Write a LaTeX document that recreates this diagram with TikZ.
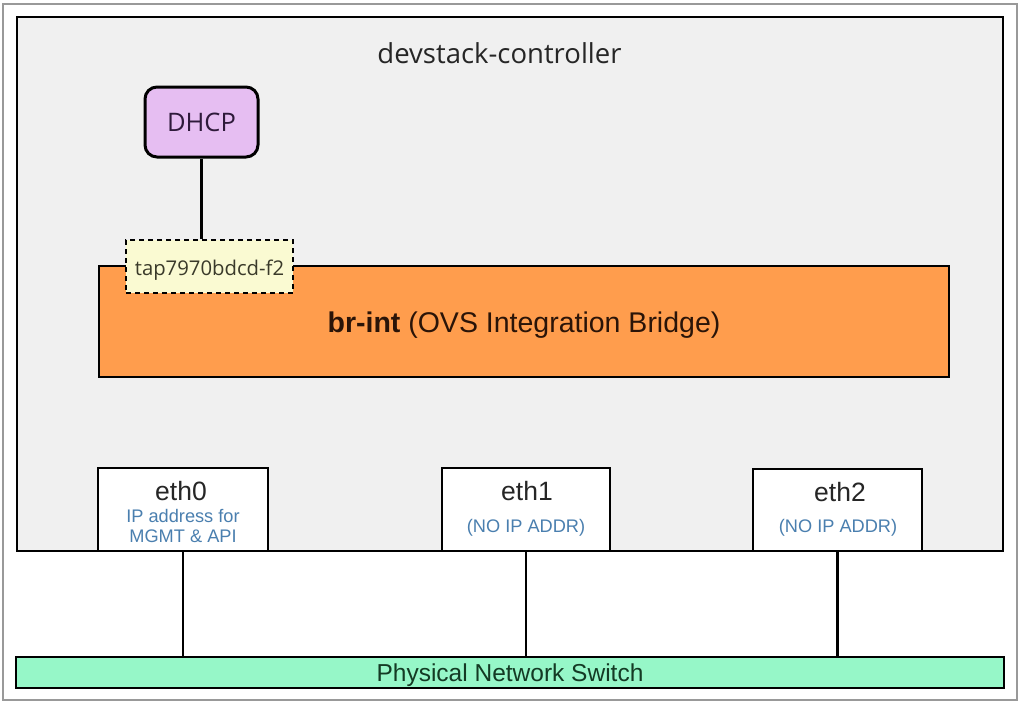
\documentclass[tikz,border=0pt]{standalone}
\usepackage{fontspec}
\setmainfont{Liberation Sans}
\newfontfamily\osans{Open Sans}
\definecolor{ctrlbg}{HTML}{F0F0F0}
\definecolor{dhcpfill}{HTML}{E6BEF2}
\definecolor{dhcptext}{HTML}{2E1A3A}
\definecolor{tapfill}{HTML}{FAFAD2}
\definecolor{taptext}{HTML}{3A3A2A}
\definecolor{brfill}{HTML}{FF9D4D}
\definecolor{brtext}{HTML}{2A1408}
\definecolor{swfill}{HTML}{96F7C8}
\definecolor{swtext}{HTML}{143A24}
\definecolor{ipblue}{HTML}{4A7FAF}
\definecolor{framegray}{HTML}{999999}
\newcommand{\lowertext}[2]{\raisebox{-#1}[\height][\depth]{#2}}
\tikzset{
  box/.style={draw=black, line width=2.3pt, inner sep=0pt, rectangle},
  ethbox/.style={box, fill=white, minimum height=83pt},
  iptext/.style={text=ipblue, font=\fontsize{18.2}{20}\selectfont, inner sep=0pt, anchor=base},
  ethtext/.style={text=black!85, font=\fontsize{26.5}{30}\selectfont, inner sep=0pt, anchor=base},
  wire/.style={draw=black, line width=2.3pt}
}
\begin{document}
\begin{tikzpicture}[x=1pt,y=-1pt]
\useasboundingbox (0,0) rectangle (1022,704);
\fill[white] (0,0) rectangle (1022,704);
\draw[framegray, line width=1.5pt] (3,4) rectangle (1017,700);
% controller
\node[box, line width=2.7pt, fill=ctrlbg, minimum width=986pt, minimum height=534pt] (ctrl) at (510,284) {};
\node[font=\osans\fontsize{27.5}{32}\selectfont, text=black!85, inner sep=0pt, anchor=base] (title) at (499.5,63) {devstack-controller};
% br-int
\node[box, fill=brfill, minimum width=850pt, minimum height=111pt, text=brtext, font=\fontsize{28.5}{32}\selectfont] (brint) at (524,321.5) {\lowertext{4pt}{\textbf{br-int} (OVS Integration Bridge)}};
% tap
\node[draw=black, line width=2.3pt, dash pattern=on 5pt off 4pt, fill=tapfill, inner sep=0pt, minimum width=167pt, minimum height=53pt, text=taptext, font=\osans\fontsize{20.3}{24}\selectfont] (tap) at (209.5,266.5) {\lowertext{4pt}{tap7970bdcd-f2}};
% DHCP
\node[box, line width=3pt, rounded corners=12pt, fill=dhcpfill, minimum width=113pt, minimum height=70pt, text=dhcptext, font=\osans\fontsize{25.5}{30}\selectfont] (dhcp) at (201.5,122) {DHCP};
\draw[wire] (dhcp.south) -- (dhcp.south |- tap.north);
% eth boxes
\node[ethbox, minimum width=170pt] (eth0) at (183,509.5) {};
\node[ethbox, minimum width=168pt] (eth1) at (526,509.5) {};
\node[ethbox, minimum width=169pt, minimum height=82pt] (eth2) at (837.5,510) {};
\node[ethtext] (eth0n) at (181,500) {eth0};
\node[iptext] (eth0a) at (183,522) {IP address for};
\node[iptext] (eth0b) at (183,542) {MGMT \& API};
\node[ethtext] (eth1n) at (527,500) {eth1};
\node[iptext] (eth1a) at (526,532) {(NO IP ADDR)};
\node[ethtext] (eth2n) at (840,501) {eth2};
\node[iptext] (eth2a) at (838,532) {(NO IP ADDR)};
% switch
\node[box, fill=swfill, minimum width=988pt, minimum height=31pt, text=swtext, font=\fontsize{24.5}{28}\selectfont] (sw) at (510,672.5) {\lowertext{3pt}{Physical Network Switch}};
\draw[wire] (eth0.south) -- (eth0.south |- sw.north);
\draw[wire] (eth1.south) -- (eth1.south |- sw.north);
\draw[wire] (eth2.south) -- (eth2.south |- sw.north);
\end{tikzpicture}
\end{document}
